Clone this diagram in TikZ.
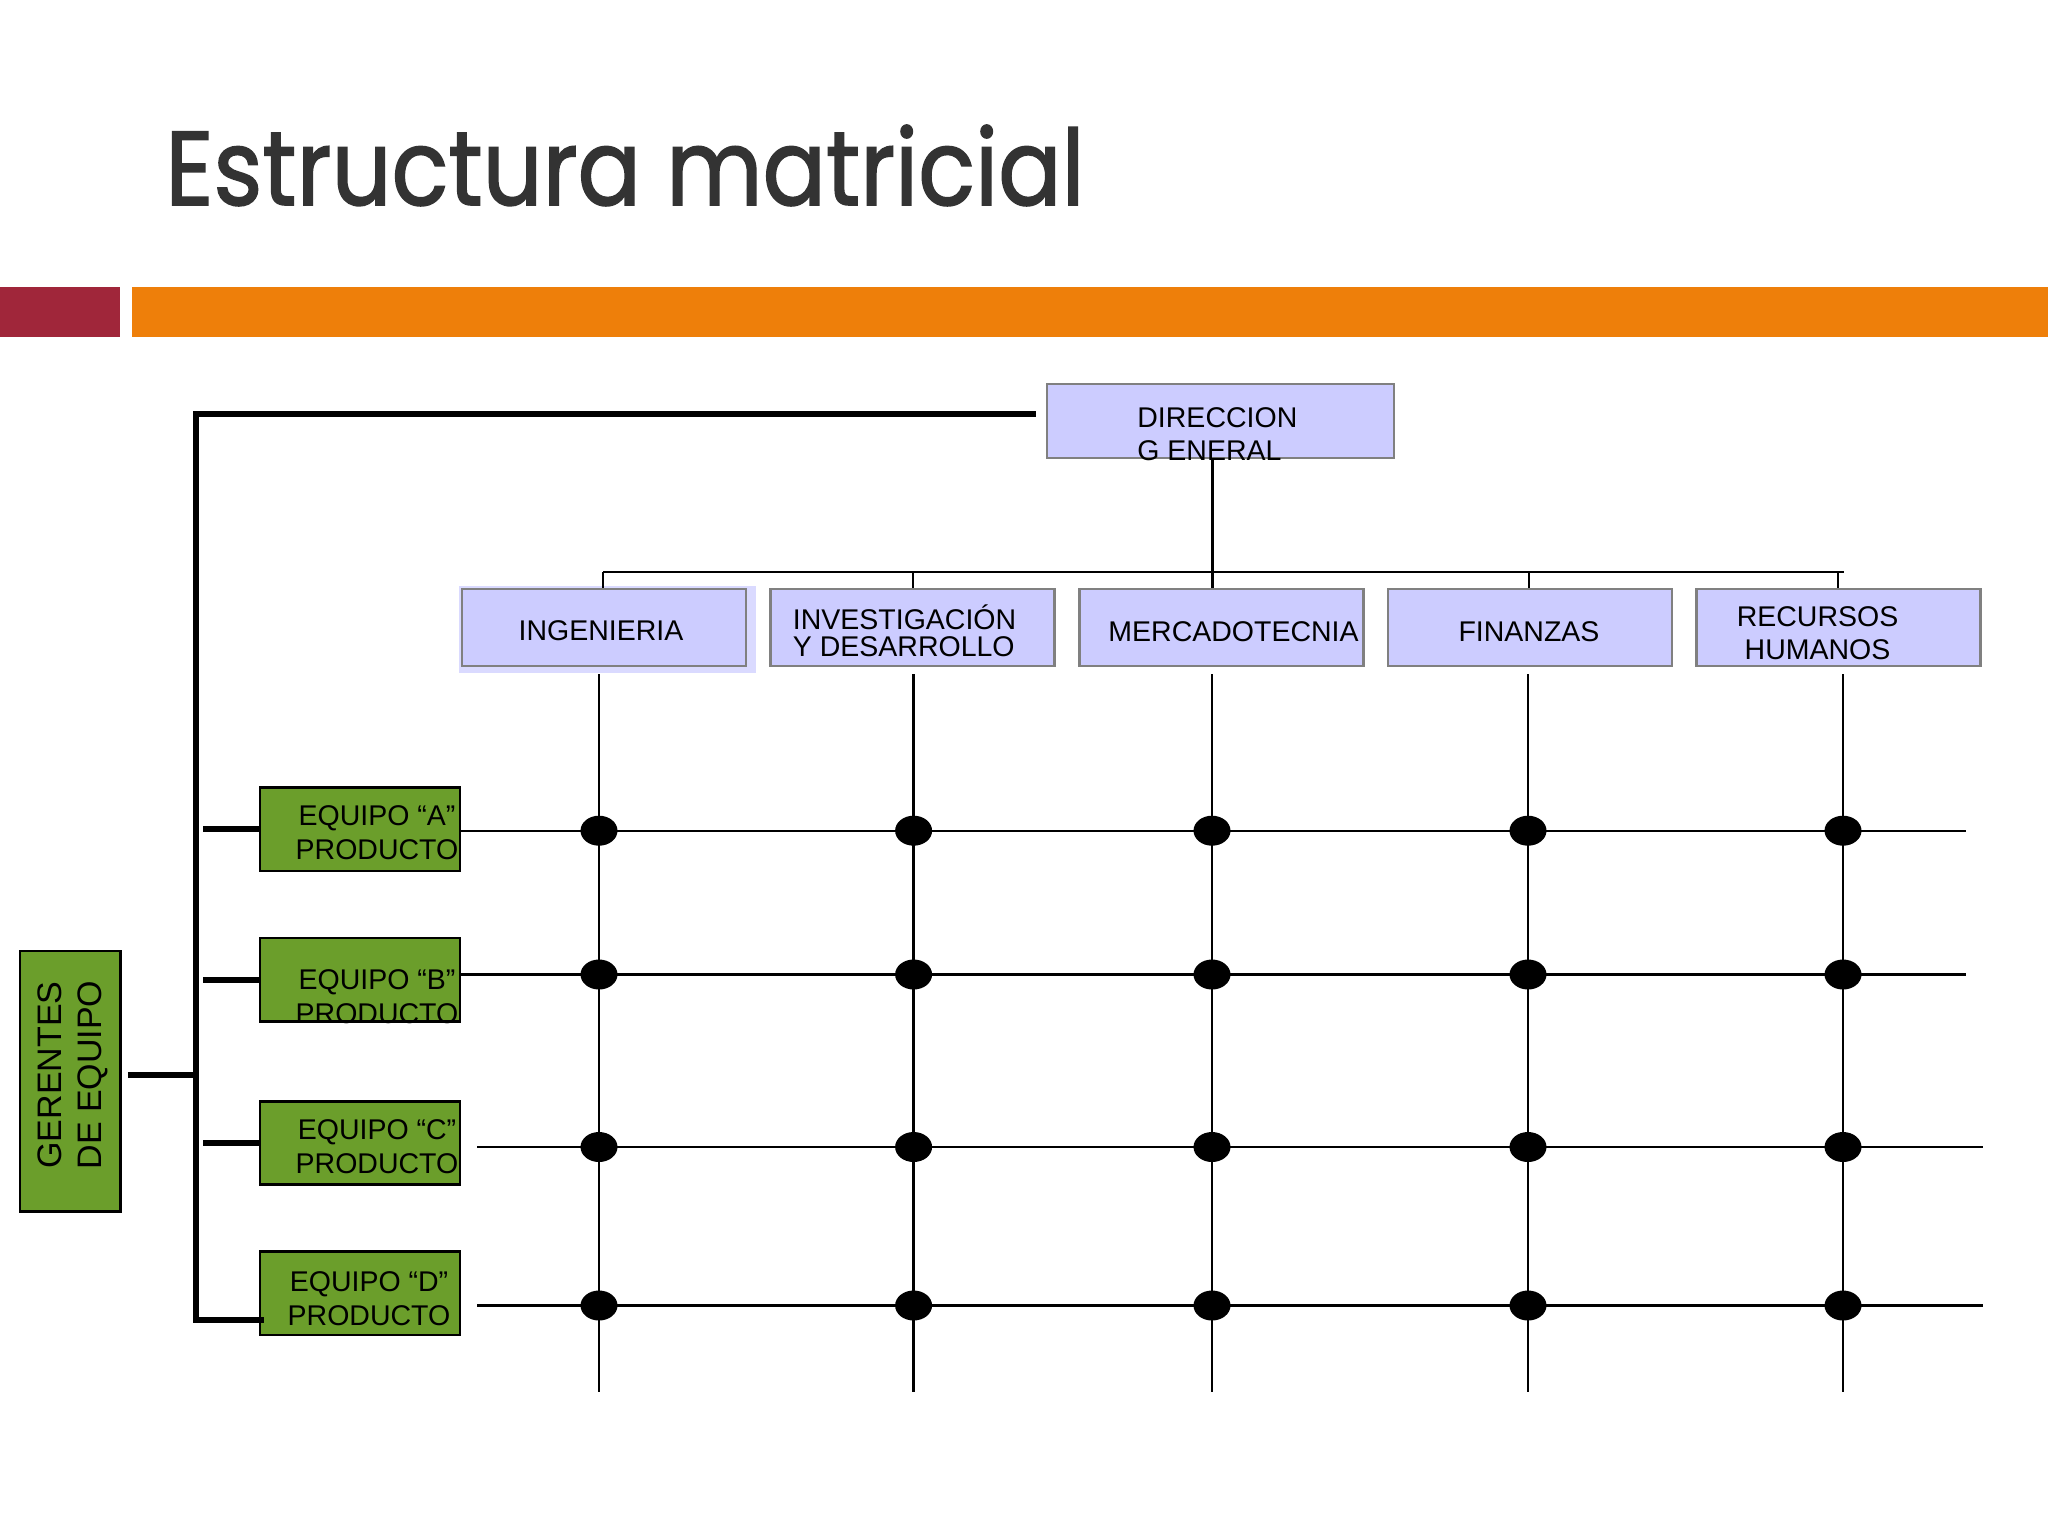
\documentclass[tikz,border=0pt]{standalone}
\usepackage{graphicx}
\usepackage{fontspec}
\setmainfont{Liberation Sans}
\newfontfamily\titlefont{Poppins}[FakeBold=1.6]
\usetikzlibrary{shapes.geometric}
\definecolor{lav}{RGB}{204,204,255}
\definecolor{lavglow}{RGB}{218,218,255}
\definecolor{lavedge}{RGB}{128,128,128}
\definecolor{grn}{RGB}{107,158,43}
\definecolor{barred}{RGB}{160,38,58}
\definecolor{barorange}{RGB}{238,127,10}
\definecolor{titlegray}{RGB}{51,51,51}
\begin{document}
\begin{tikzpicture}[x=0.5pt,y=-0.5pt,
  dept/.style={draw=lavedge,line width=1.2pt,fill=lav,minimum width=142pt,minimum height=38.5pt,inner sep=0},
  team/.style={draw=black,line width=1.4pt,fill=grn,minimum width=100pt,minimum height=41.6pt,inner sep=0},
  lbl/.style={font=\fontsize{14.25}{17}\selectfont,align=center,inner sep=0},
  trunk/.style={line width=3pt},
  bus/.style={line width=1.35pt},
  col/.style={line width=1.3pt},
  row/.style={line width=1.2pt},
  dot/.style={ellipse,fill=black,minimum width=18.5pt,minimum height=15pt,inner sep=0}]
\useasboundingbox (0,0) rectangle (2048,1536);
\fill[white] (0,0) rectangle (2048,1536);
% header bars
\fill[barred] (0,287) rectangle (120,337);
\fill[barorange] (132,287) rectangle (2048,337);
\node[anchor=base west,inner sep=0,text=titlegray] (title) at (165,205)
  {\resizebox{459.5pt}{40pt}{\titlefont Estructura matricial}};
% boxes
\node[dept,minimum width=173.5pt,minimum height=36.9pt] (dg) at (1220.5,421) {};
\fill[lavglow] (458.5,586) rectangle (756,672.7);
\node[dept] (ing) at (604.25,627.5) {};
\node[dept] (inv) at (912.5,627.5) {};
\node[dept] (mer) at (1221.5,627.5) {};
\node[dept] (fin) at (1530,627.5) {};
\node[dept] (rh) at (1838.5,627.5) {};
\node[team] (eqA) at (360,829.3) {};
\node[team] (eqB) at (360,979.5) {};
\node[team] (eqC) at (360,1143.25) {};
\node[team] (eqD) at (360,1293.3) {};
\node[team,minimum width=50.25pt,minimum height=130.3pt] (ger) at (70.25,1081.3) {};
% coordinates
\coordinate (tT) at (196,413.7);
\coordinate (tB) at (196,1320);
\coordinate (busL) at (603,572);
\coordinate (busR) at (1843.5,572);
\coordinate (k2) at (913,572);
\coordinate (k4) at (1529,572);
\coordinate (k5) at (1838,572);
\coordinate (cI) at (599,1392);
\coordinate (cV) at (913.6,1392);
\coordinate (cM) at (1212,1392);
\coordinate (cF) at (1528,1392);
\coordinate (cR) at (1843,1392);
\coordinate (rA) at (1966,830.7);
\coordinate (rB) at (1966,974.5);
\coordinate (rC) at (1983,1147);
\coordinate (rD) at (1983,1305.5);
% thick trunk
\draw[trunk] ([xshift=-5pt]dg.west |- tT) -- (tT) -- (tB) -- ([xshift=2.5pt]eqD.west |- tB);
\draw[trunk] (eqA.west) -- ++(-28pt,0);
\draw[trunk] (eqB.west) -- ++(-28pt,0);
\draw[trunk] (eqC.west) -- ++(-28pt,0);
\draw[trunk,line width=2.7pt] ([xshift=3pt,yshift=3.1pt]ger.east) -- ([yshift=3.1pt]ger.east -| tT);
% hierarchy
\draw[col,line width=1.5pt] (dg.south -| cM) -- (mer.north -| cM);
\draw[bus] (busL) -- (busR);
\draw[bus] (busL) -- (ing.north -| busL);
\draw[bus] (k2) -- (inv.north -| k2);
\draw[bus] (k4) -- (fin.north -| k4);
\draw[bus] (k5) -- (rh.north -| k5);
% matrix
\draw[col] ([yshift=-3.5pt]ing.south -| cI) -- (cI);
\draw[col] ([yshift=-3.5pt]inv.south -| cV) -- (cV);
\draw[col] ([yshift=-3.5pt]mer.south -| cM) -- (cM);
\draw[col] ([yshift=-3.5pt]fin.south -| cF) -- (cF);
\draw[col] ([yshift=-3.5pt]rh.south -| cR) -- (cR);
\draw[row] (eqA.east |- rA) -- (rA);
\draw[row] (eqB.east |- rB) -- (rB);
\draw[row] ([xshift=8pt]eqC.east |- rC) -- (rC);
\draw[row] ([xshift=8pt]eqD.east |- rD) -- (rD);
\foreach \c in {cI,cV,cM,cF,cR}
  \foreach \r in {rA,rB,rC,rD}
    \node[dot] (d\c\r) at (\c |- \r) {};
% texts
\node[lbl,align=left,anchor=west,font=\fontsize{14.25}{16.65}\selectfont] (dgt) at (1137,434.3) {DIRECCION\\G ENERAL};
\node[lbl] (ingt) at (601,630.5) {INGENIERIA};
\node[lbl,align=left,anchor=west,font=\fontsize{14.25}{13.5}\selectfont] (invt) at (792.5,630.4) {INVESTIGACIÓN\\Y DESARROLLO};
\node[lbl] (mert) at (1233.5,632) {MERCADOTECNIA};
\node[lbl] (fint) at (1529,632) {FINANZAS};
\node[lbl,font=\fontsize{14.25}{16.65}\selectfont] (rht) at (1817.5,633.3) {RECURSOS\\HUMANOS};
\node[lbl] (eqAt) at (377,833) {EQUIPO “A”\\PRODUCTO};
\node[lbl] (eqBt) at (377,996.4) {EQUIPO “B”\\PRODUCTO};
\node[lbl] (eqCt) at (377,1146.9) {EQUIPO “C”\\PRODUCTO};
\node[lbl] (eqDt) at (369,1298.3) {EQUIPO “D”\\PRODUCTO};
\node[lbl,rotate=90,font=\fontsize{17}{20.25}\selectfont] (gert) at (72.75,1075) {GERENTES\\DE EQUIPO};
\end{tikzpicture}
\end{document}
